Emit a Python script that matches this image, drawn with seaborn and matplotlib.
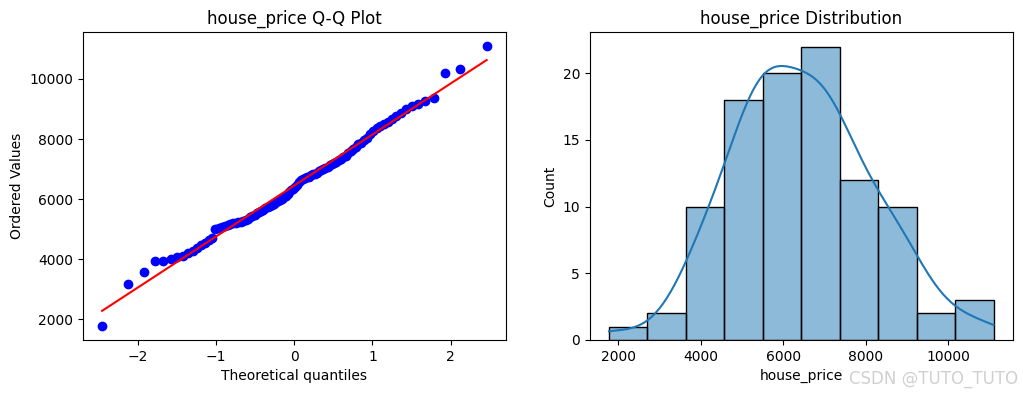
import numpy as np
import pandas as pd
import seaborn as sns
import matplotlib
matplotlib.use("Agg")
import matplotlib.pyplot as plt
from statistics import NormalDist

low_prices = [1780, 3170, 3570]
bin3_prices = [3940, 3950, 4020, 4060, 4120, 4200, 4280, 4370, 4460, 4540]
bin4_prices = [4650, 4720, 5000, 5040, 5080, 5110, 5140, 5170, 5190, 5210,
               5230, 5250, 5280, 5310, 5350, 5390, 5430, 5480]
bin5_prices = [5530, 5570, 5610, 5650, 5690, 5730, 5770, 5810, 5850, 5890,
               5930, 5970, 6020, 6070, 6120, 6170, 6230, 6290, 6350, 6410]
bin6_prices = [6480, 6560, 6620, 6660, 6690, 6720, 6750, 6790, 6820, 6850, 6880,
               6920, 6960, 7000, 7040, 7080, 7120, 7160, 7200, 7240, 7290, 7340]
bin7_prices = [7400, 7450, 7530, 7600, 7680, 7750, 7820, 7880, 7960, 8050, 8150, 8250]
bin8_prices = [8350, 8420, 8500, 8560, 8650, 8760, 8880, 9000, 9100, 9180]
high_prices = [9280, 9370, 10200, 10330, 11100]

house_price = np.array(low_prices + bin3_prices + bin4_prices + bin5_prices
                       + bin6_prices + bin7_prices + bin8_prices + high_prices, dtype=float)
df = pd.DataFrame({'house_price': house_price})

# theoretical quantiles (Filliben, like scipy probplot)
n = len(house_price)
m = np.zeros(n)
m[-1] = 0.5 ** (1.0 / n)
m[0] = 1 - m[-1]
i = np.arange(2, n)
m[1:-1] = (i - 0.3175) / (n + 0.365)
osm = np.array([NormalDist().inv_cdf(p) for p in m])
osr = np.sort(house_price)
slope, intercept = np.polyfit(osm, osr, 1)

fig = plt.figure(figsize=(10.23, 3.93), dpi=100)
ax1 = fig.add_axes([0.081, 0.135, 0.4135, 0.784])
ax2 = fig.add_axes([0.5765, 0.135, 0.4135, 0.784])

ax1.plot(osm, osr, 'bo')
ax1.plot(osm, slope * osm + intercept, 'r-')
ax1.set_title('house_price Q-Q Plot')
ax1.set_xlabel('Theoretical quantiles')
ax1.set_ylabel('Ordered Values')

sns.histplot(data=df, x='house_price', bins=10, kde=True, ax=ax2)
ax2.set_title('house_price Distribution')

fig.text(0.995, 0.035, 'CSDN @TUTO_TUTO', ha='right', va='center',
         fontsize=12, color='#d0d0d0')

plt.savefig('out.png', dpi=100)
